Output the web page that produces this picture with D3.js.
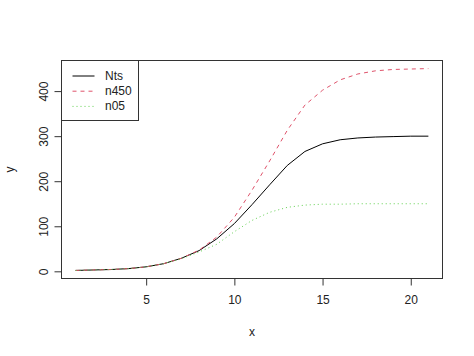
<!DOCTYPE html>
<html><head><meta charset="utf-8">
<script src="https://cdn.jsdelivr.net/npm/d3@7"></script>
<style>
html,body{margin:0;padding:0;background:#fff;}
text{font-family:"Liberation Sans",Arial,sans-serif;}
</style></head>
<body><svg id="c" width="474" height="356"></svg>
<script>
const xs = [1,2,3,4,5,6,7,8,9,10,11,12,13,14,15,16,17,18,19,20,21];
const Nts  = [2,3,4,6,10,17,29,46,72,106,148,192,235,266,283,292,296,298,299,300,300];
const n450 = [2,3,4,6,10,17,29,47,76,120,180,245,313,369,402,425,438,445,448,449,450];
const n05  = [2,3,4,6,10,17,28,43,60,88,113,131,142,147,149,149,150,150,150,150,150];
const xTicks = [5,10,15,20];
const yTicks = [0,100,200,300,400];
const seriesNames = ["Nts","n450","n05"];

const svg = d3.select("#c");
const L=61.5, R=442.5, T=60.5, B=278.5;
const x = d3.scaleLinear().domain([1-0.8, 21+0.8]).range([L,R]);
const yMin = d3.min([...Nts,...n450,...n05]), yMax = d3.max([...Nts,...n450,...n05]);
const pad = (yMax-yMin)*0.04;
const y = d3.scaleLinear().domain([yMin-pad, yMax+pad]).range([B,T]);

const series = [
  {name:seriesNames[0], vals:Nts, color:"#000000", dash:null},
  {name:seriesNames[1], vals:n450, color:"#DF536B", dash:"4,4"},
  {name:seriesNames[2], vals:n05, color:"#61D04F", dash:"1,3"}
];

const line = d3.line().x((d,i)=>x(xs[i])).y(d=>y(d));
series.forEach(s=>{
  svg.append("path").attr("d",line(s.vals)).attr("fill","none")
    .attr("stroke",s.color).attr("stroke-width",1)
    .attr("stroke-dasharray",s.dash);
});

// box
svg.append("rect").attr("x",L).attr("y",T).attr("width",R-L).attr("height",B-T)
  .attr("fill","none").attr("stroke","#333").attr("stroke-width",1);

// x axis
const xa = svg.append("g").attr("transform",`translate(0,${B})`)
  .call(d3.axisBottom(x).tickValues(xTicks).tickSize(7).tickPadding(10).tickFormat(d3.format("d")));
xa.select(".domain").attr("d",`M${x(xTicks[0])},0H${x(xTicks[xTicks.length-1])}`).attr("stroke","#333");
xa.selectAll(".tick line").attr("stroke","#333");
xa.selectAll("text").attr("font-size",12).attr("fill","#222").attr("font-family","Liberation Sans, Arial, sans-serif");

// y axis
const ya = svg.append("g").attr("transform",`translate(${L},0)`)
  .call(d3.axisLeft(y).tickValues(yTicks).tickSize(7).tickFormat(d3.format("d")));
ya.select(".domain").attr("d",`M0,${y(yTicks[0])}V${y(yTicks[yTicks.length-1])}`).attr("stroke","#333");
ya.selectAll(".tick line").attr("stroke","#333");
ya.selectAll("text").attr("x",null).attr("dy",null)
  .attr("text-anchor","middle").attr("font-size",12).attr("fill","#222")
  .attr("font-family","Liberation Sans, Arial, sans-serif")
  .attr("transform","translate(-18,0) rotate(-90)")
  .attr("dominant-baseline","central");

// axis titles
svg.append("text").attr("x",(L+R)/2).attr("y",336).attr("text-anchor","middle")
  .attr("font-size",12).attr("fill","#222").text("x");
svg.append("text").attr("transform",`translate(14,${(T+B)/2}) rotate(-90)`)
  .attr("text-anchor","middle").attr("font-size",12).attr("fill","#222").text("y");

// legend
const lg = svg.append("g");
lg.append("rect").attr("x",L).attr("y",T).attr("width",77).attr("height",60)
  .attr("fill","#fff").attr("stroke","#333");
series.forEach((s,i)=>{
  const yy = 76 + i*15.2;
  lg.append("line").attr("x1",72.5).attr("x2",94.5).attr("y1",yy).attr("y2",yy)
    .attr("stroke",s.color).attr("stroke-dasharray",s.dash);
  lg.append("text").attr("x",105).attr("y",yy).attr("dominant-baseline","central")
    .attr("font-size",12).attr("fill","#222").text(s.name);
});
</script></body></html>
